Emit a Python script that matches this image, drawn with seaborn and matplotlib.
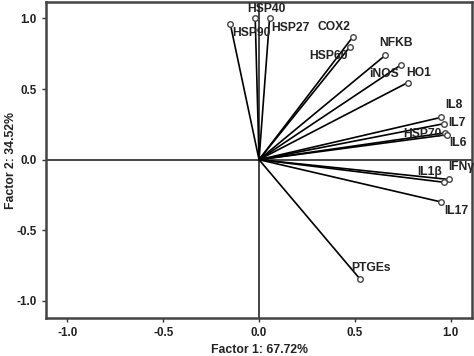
import pandas as pd
import seaborn as sns
import matplotlib.pyplot as plt

# loadings
variables = ["HSP90", "HSP40", "HSP27", "COX2", "HSP60", "NFKB", "iNOS", "HO1",
             "IL8", "IL7", "HSP70", "IL6", "IFNγ", "IL1β", "IL17", "PTGEs"]
factor1 = [-0.15, -0.02, 0.055, 0.49, 0.475, 0.66, 0.74, 0.775,
           0.952, 0.966, 0.973, 0.983, 0.99, 0.966, 0.952, 0.527]
factor2 = [0.96, 1.00, 1.00, 0.87, 0.80, 0.74, 0.67, 0.545,
           0.30, 0.255, 0.19, 0.177, -0.14, -0.16, -0.30, -0.845]
# label offsets in pixels from each point
label_dx = [21, 11, 21, -19, -22, 11, -17, 11, 12, 13, -23, 11, 13, -15, 15, 11]
label_dy = [-9, 9, -10, 10, -9, 12, -9, 10, 12, 1, -1, -8, 12, 10, -9, 11]

pts = pd.DataFrame({"var": variables, "f1": factor1, "f2": factor2})
# each vector goes from the origin to its loading
origin = pd.DataFrame({"var": variables, "f1": 0.0, "f2": 0.0})
segs = pd.concat([origin, pts], ignore_index=True)

sns.set_style("ticks")
plt.rcParams["font.family"] = ["Liberation Sans", "DejaVu Sans"]
plt.rcParams["font.weight"] = "bold"

fig = plt.figure(figsize=(4.74, 3.56), dpi=100)
ax = fig.add_axes([0.097, 0.107, 0.899, 0.887])

ax.axhline(0, color="#444444", lw=1.4, zorder=1)
ax.axvline(0, color="#444444", lw=1.4, zorder=1)

sns.lineplot(data=segs, x="f1", y="f2", units="var", estimator=None, sort=False,
             color="black", lw=1.2, ax=ax, zorder=2)
sns.scatterplot(data=pts, x="f1", y="f2", ax=ax, s=16, facecolor="white",
                edgecolor="#444444", linewidth=1.0, zorder=3)

for name, x, y, dx, dy in zip(variables, factor1, factor2, label_dx, label_dy):
    ax.annotate(name, (x, y), xytext=(dx, dy), textcoords="offset pixels",
                ha="center", va="center", fontsize=8.7, fontweight="bold",
                color="#222222", zorder=4)

ax.set_xlim(-1.112, 1.112)
ax.set_ylim(-1.12, 1.115)
ax.set_xticks([-1.0, -0.5, 0.0, 0.5, 1.0])
ax.set_yticks([-1.0, -0.5, 0.0, 0.5, 1.0])
ax.set_xticklabels(["-1.0", "-0.5", "0.0", "0.5", "1.0"])
ax.set_yticklabels(["-1.0", "-0.5", "0.0", "0.5", "1.0"])
ax.tick_params(labelsize=8.4, length=3, width=1, color="#333333", labelcolor="#222222")
for s in ax.spines.values():
    s.set_color("#444444")
    s.set_linewidth(1.8)

ax.set_xlabel("Factor 1: 67.72%", fontsize=8.8, fontweight="bold", color="#222222", labelpad=4)
ax.set_ylabel("Factor 2: 34.52%", fontsize=8.8, fontweight="bold", color="#222222")
ax.yaxis.set_label_coords(-0.067, 0.5)

fig.savefig("out.png", dpi=100)
